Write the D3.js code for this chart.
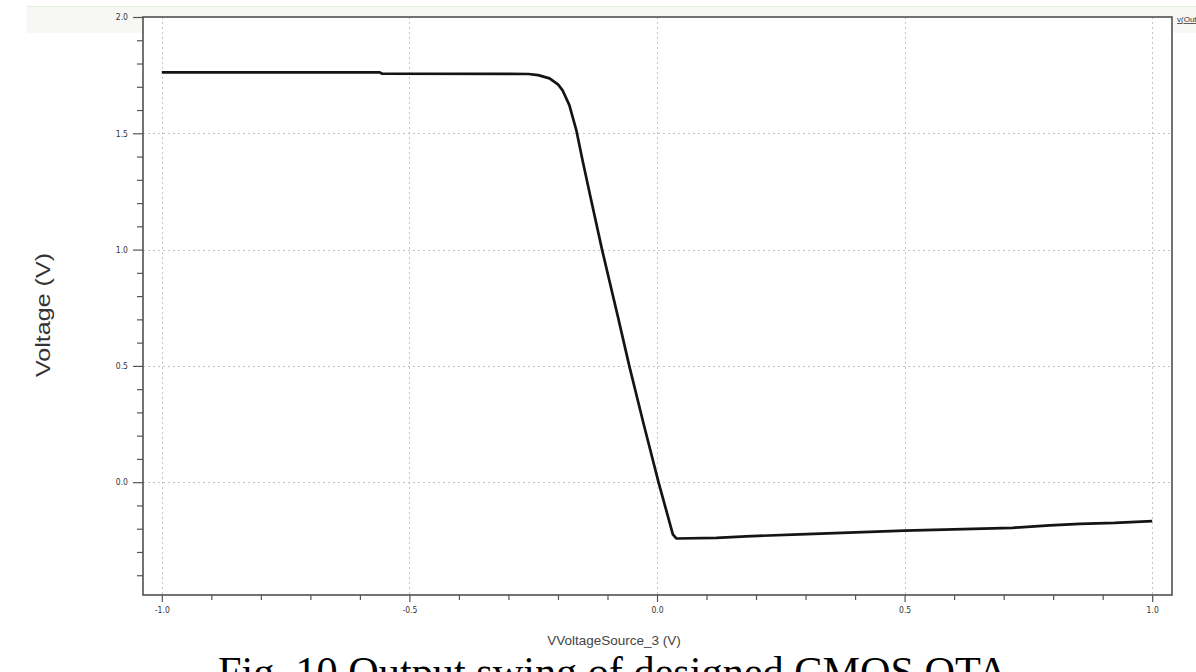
<!DOCTYPE html>
<html>
<head>
<meta charset="utf-8">
<script src="https://cdn.jsdelivr.net/npm/d3@7"></script>
<style>
  body { margin: 0; background: #fff; }
  svg { display: block; }
</style>
</head>
<body>
<svg id="chart" width="1196" height="672"></svg>
<script>
// sweep of the input source (V) and the measured output v(Out) (V)
const sweepIn = [-1.0, -0.56, -0.555, -0.26, -0.24, -0.217, -0.20, -0.191, -0.177, -0.163, -0.150,
  -0.133, -0.111, -0.079, -0.056, -0.027, 0.003, 0.032, 0.039, 0.12, 0.18, 0.288, 0.50, 0.718,
  0.793, 0.854, 0.924, 1.0];
const vOut = [1.762, 1.762, 1.756, 1.755, 1.750, 1.736, 1.71, 1.686, 1.621, 1.514, 1.38,
  1.213, 1.0, 0.712, 0.5, 0.25, 0.0, -0.224, -0.242, -0.239, -0.233, -0.224, -0.208, -0.196,
  -0.186, -0.179, -0.175, -0.167];

const xMajor = [-1.0, -0.5, 0.0, 0.5, 1.0];
const xMinor = [-0.9, -0.8, -0.7, -0.6, -0.4, -0.3, -0.2, -0.1, 0.1, 0.2, 0.3, 0.4, 0.6, 0.7, 0.8, 0.9];
const yMajor = [0.0, 0.5, 1.0, 1.5, 2.0];
const yMinor = [-0.4, -0.3, -0.2, -0.1, 0.1, 0.2, 0.3, 0.4, 0.6, 0.7, 0.8, 0.9, 1.1, 1.2, 1.3, 1.4, 1.6, 1.7, 1.8, 1.9];

const xLabel = "VVoltageSource_3 (V)";
const yLabel = "Voltage (V)";
const legendText = "v(Out)";
const caption = "Fig. 10 Output swing of designed CMOS OTA";

const svg = d3.select("#chart");
const pLeft = 143, pRight = 1172, pTop = 17, pBottom = 595;

const x = d3.scaleLinear().domain([-1.038, 1.040]).range([pLeft, pRight]);
const y = d3.scaleLinear().domain([-0.485, 2.0]).range([pBottom, pTop]);

// faint header band from the screenshot
svg.append("rect").attr("x", 27).attr("y", 7).attr("width", 1169).attr("height", 26)
  .attr("fill", "#f7f8f6");
svg.append("line").attr("x1", 27).attr("x2", 1196).attr("y1", 6.5).attr("y2", 6.5)
  .attr("stroke", "#e0efd8").attr("stroke-width", 1);

// plot area
svg.append("rect").attr("x", pLeft).attr("y", pTop)
  .attr("width", pRight - pLeft).attr("height", pBottom - pTop).attr("fill", "#fff");

// dotted grid
const grid = svg.append("g").attr("stroke", "#c4c4c4").attr("stroke-width", 1)
  .attr("stroke-dasharray", "2,3");
grid.selectAll(".vg").data(xMajor).join("line")
  .attr("x1", d => Math.round(x(d)) + 0.5).attr("x2", d => Math.round(x(d)) + 0.5)
  .attr("y1", pTop).attr("y2", pBottom);
grid.selectAll(".hg").data(yMajor.filter(d => d < 2)).join("line")
  .attr("y1", d => Math.round(y(d)) + 0.5).attr("y2", d => Math.round(y(d)) + 0.5)
  .attr("x1", pLeft).attr("x2", pRight);

// axes
function styleAxis(g) {
  g.select(".domain").remove();
  g.selectAll("line").attr("stroke", "#555").attr("stroke-width", 1.2);
  g.selectAll("text").attr("fill", "#333").style("font-family", "'Liberation Sans Narrow', 'DejaVu Sans Condensed', Arial, sans-serif")
    .style("font-size", "8.5px");
}

svg.append("g").attr("transform", `translate(${pLeft},0)`)
  .call(d3.axisLeft(y).tickValues(yMajor).tickSize(10).tickPadding(5).tickFormat(d3.format(".1f")))
  .call(styleAxis);
svg.append("g").attr("transform", `translate(${pLeft},0)`)
  .call(d3.axisLeft(y).tickValues(yMinor).tickSize(6).tickFormat(""))
  .call(styleAxis);

svg.append("g").attr("transform", `translate(0,${pBottom})`)
  .call(d3.axisBottom(x).tickValues(xMajor).tickSize(7).tickPadding(5)
    .tickFormat(d => d3.format(".1f")(d).replace("−", "-")))
  .call(styleAxis);
svg.append("g").attr("transform", `translate(0,${pBottom})`)
  .call(d3.axisBottom(x).tickValues(xMinor).tickSize(5).tickFormat(""))
  .call(styleAxis);

// frame
svg.append("rect").attr("x", pLeft).attr("y", pTop)
  .attr("width", pRight - pLeft).attr("height", pBottom - pTop)
  .attr("fill", "none").attr("stroke", "#505050").attr("stroke-width", 1.6);

// curve
const line = d3.line().x((d, i) => x(sweepIn[i])).y(d => y(d));
svg.append("path").datum(vOut).attr("d", line)
  .attr("fill", "none").attr("stroke", "#141414").attr("stroke-width", 2.7)
  .attr("stroke-linejoin", "round");

// legend (clipped at the right edge, as in the screenshot)
svg.append("text").attr("x", 1177).attr("y", 22).text(legendText)
  .style("font-family", "'Liberation Sans Narrow', Arial, sans-serif").style("font-size", "8px")
  .attr("fill", "#333").attr("text-decoration", "underline");

// axis titles
svg.append("text").attr("transform", "translate(50,315) rotate(-90)")
  .attr("text-anchor", "middle").text(yLabel)
  .attr("textLength", 124).attr("lengthAdjust", "spacingAndGlyphs")
  .style("font-family", "'Liberation Sans', Arial, sans-serif").style("font-size", "21px")
  .attr("fill", "#333");
svg.append("text").attr("x", 614).attr("y", 645).attr("text-anchor", "middle").text(xLabel)
  .style("font-family", "'Liberation Sans', Arial, sans-serif").style("font-size", "13.5px")
  .attr("fill", "#444");

// caption
svg.append("text").attr("x", 218).attr("y", 686).text(caption)
  .attr("textLength", 790).attr("lengthAdjust", "spacingAndGlyphs")
  .style("font-family", "'Liberation Serif', 'Times New Roman', serif").style("font-size", "42px")
  .attr("fill", "#000");
</script>
</body>
</html>
